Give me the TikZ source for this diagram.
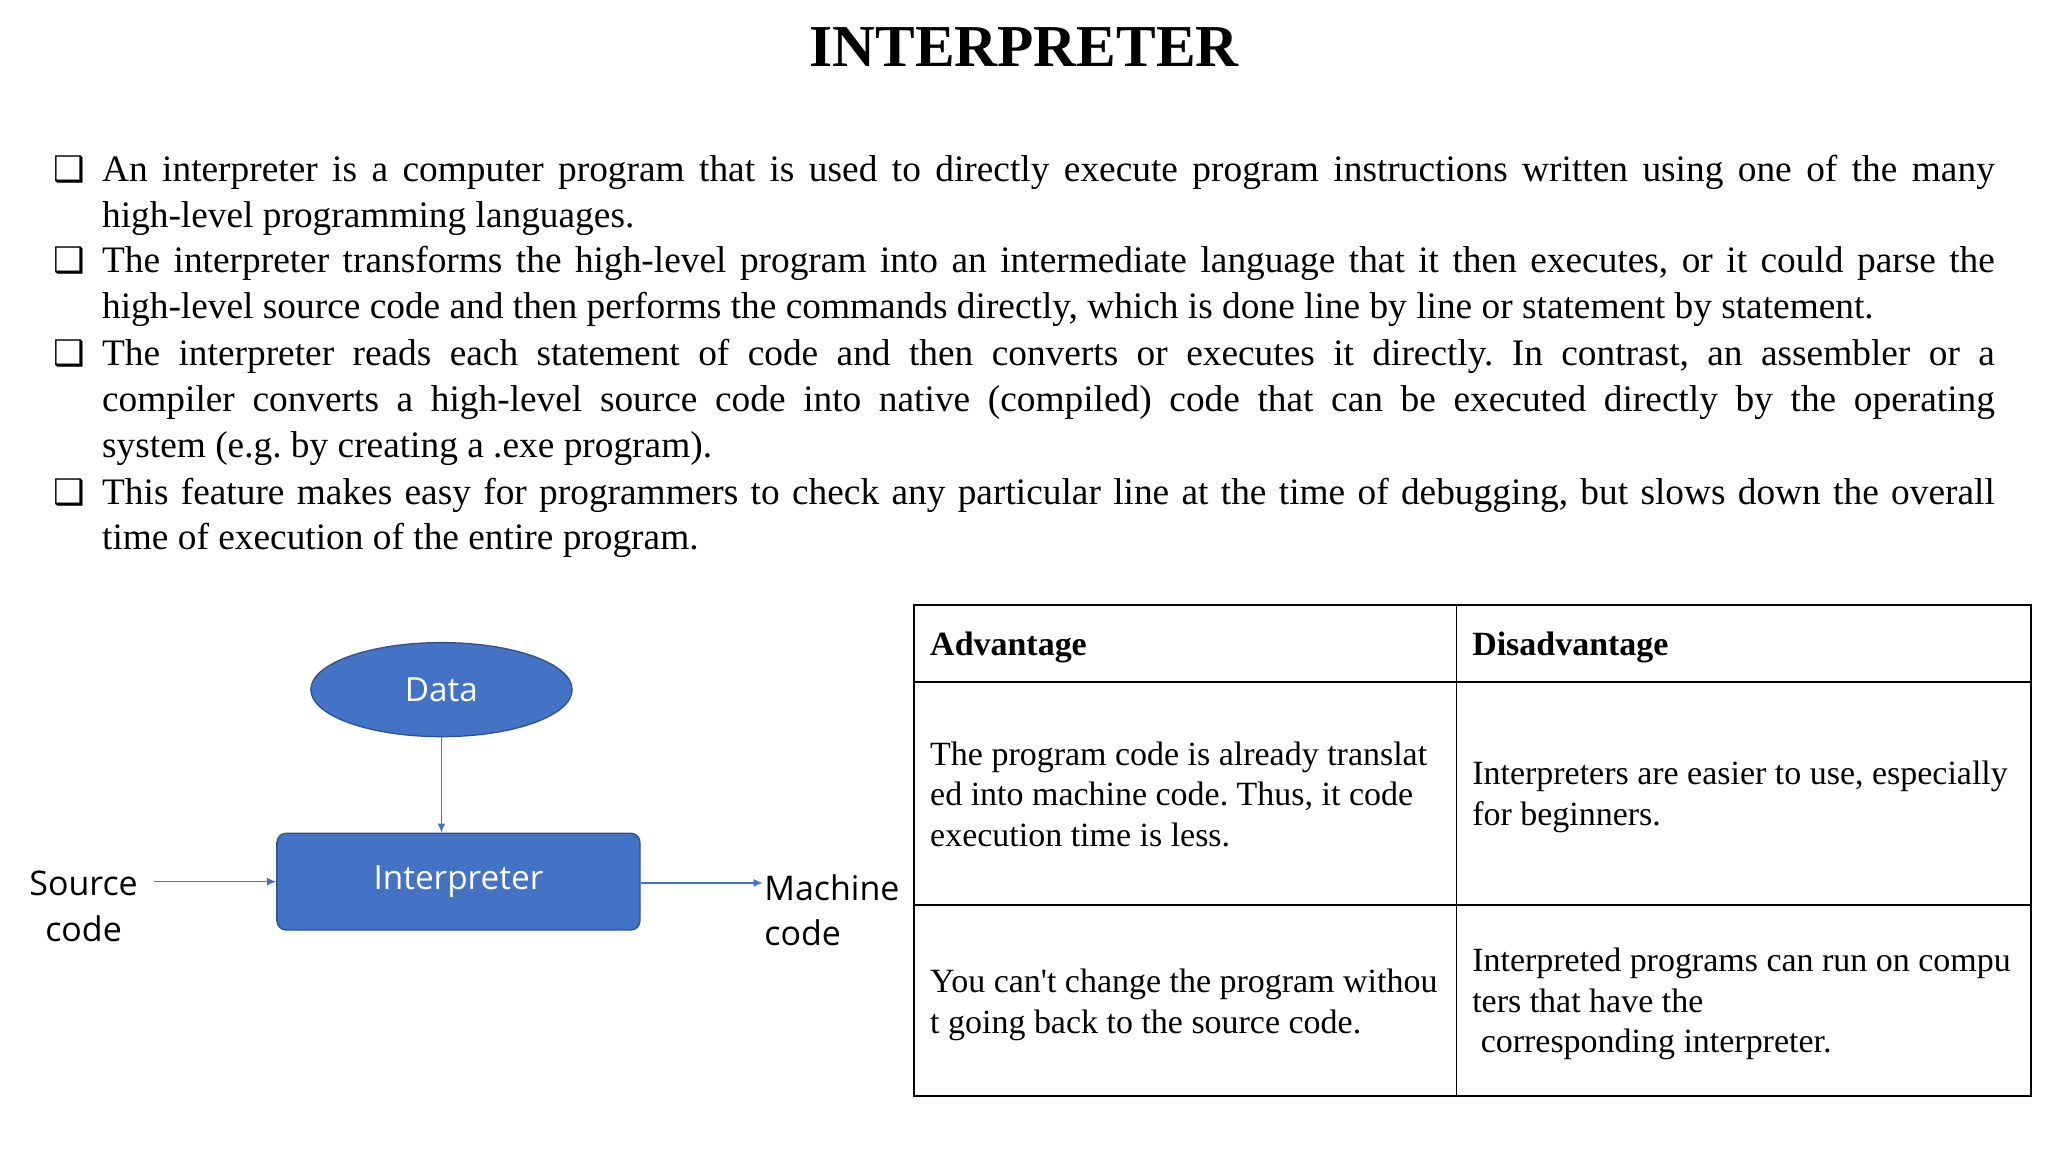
\documentclass[tikz,border=0pt]{standalone}
\usepackage{fontspec}
\setmainfont{Liberation Serif}
\newfontfamily\nomap{Liberation Serif}[Ligatures=TeXOff]
\newfontfamily\diagfont{Open Sans}
\newfontfamily\symfont{DejaVu Sans}
\usetikzlibrary{shapes.geometric,arrows.meta}
\definecolor{blu}{HTML}{4472C4}
\definecolor{bluedge}{HTML}{2F528F}
\frenchspacing
\newcommand{\cellrows}[1]{\begin{tabular}[t]{@{}l@{}}#1\end{tabular}}
\newcommand{\apos}{{\nomap'}}
\tikzset{
 para/.style={anchor=base west,text width=1449pt,align=justify,inner sep=0pt,font=\fontsize{28.6}{35}\selectfont},
 bul/.style={anchor=base,inner sep=0pt,font=\symfont\fontsize{27}{27}\selectfont},
 cell/.style={anchor=base west,inner sep=0pt,font=\fontsize{26}{31}\selectfont},
 dnode/.style={fill=blu,draw=bluedge,line width=1pt,text=white,font=\diagfont\fontsize{25.5}{30}\selectfont},
 dlabel/.style={inner sep=0pt,align=left,font=\diagfont\fontsize{26}{35}\selectfont},
 conn/.style={draw=blu,line width=1pt,-{Latex[length=7pt,width=6pt]}}
}
\begin{document}
\begin{tikzpicture}[x=1pt,y=-1pt]
\useasboundingbox[fill=white] (0,0) rectangle (1568,882);
\node[font=\bfseries\fontsize{45.5}{45}\selectfont,anchor=base] (title) at (784,51) {INTERPRETER};
\node[bul] (b1) at (53,139) {❑};
\node[bul] (b2) at (53,209) {❑};
\node[bul] (b3) at (53,280) {❑};
\node[bul] (b4) at (53,386) {❑};
\node[para] (p1) at (78,139) {An interpreter is a computer program that is used to directly execute program instructions written using one of the many\linebreak high-level programming languages.};
\node[para] (p2) at (78,209) {The interpreter transforms the high-level program into an intermediate language that it then executes, or it could parse the\linebreak high-level source code and then performs the commands directly, which is done line by line or statement by statement.};
\node[para] (p3) at (78,280) {The interpreter reads each statement of code and then converts or executes it directly. In contrast, an assembler or a\linebreak compiler converts a high-level source code into native (compiled) code that can be executed directly by the operating\linebreak system (e.g. by creating a .exe program).};
\node[para] (p4) at (78,386) {This feature makes easy for programmers to check any particular line at the time of debugging, but slows down the overall\linebreak time of execution of the entire program.};
% diagram
\node[dnode,ellipse,minimum width=200pt,minimum height=72pt] (data) at (338,528) {Data};
\node[dnode,rounded corners=7pt,minimum width=278pt,minimum height=74pt] (interp) at (351,675) {Interpreter};
\node[dlabel,align=center] (src) at (64,694) {Source\\code};
\node[dlabel,anchor=west] (mach) at (585,697) {Machine\\code};
\coordinate (srcend) at (118,675);
\coordinate (machend) at (584,676);
\draw[conn] (data) -- (interp.north -| data);
\draw[conn] (srcend) -- (interp.west |- srcend);
\draw[conn] (interp.east |- machend) -- (machend);
% table
\draw[line width=1.5pt] (700,463) rectangle (1555,839);
\draw[line width=1.2pt] (1115,463) -- (1115,839) (700,522) -- (1555,522) (700,693) -- (1555,693);
\node[cell,font=\bfseries\fontsize{26}{31}\selectfont] (h1) at (712,502) {Advantage};
\node[cell,font=\bfseries\fontsize{26}{31}\selectfont] (h2) at (1127,502) {Disadvantage};
\node[cell] (c11) at (712,586) {\cellrows{The program code is already translat\\ed into machine code. Thus, it code\\execution time is less.}};
\node[cell] (c12) at (1127,601) {\cellrows{Interpreters are easier to use, especially\\for beginners.}};
\node[cell] (c21) at (712,760) {\cellrows{You can\apos t change the program withou\\t going back to the source code.}};
\node[cell] (c22) at (1127,744) {\cellrows{Interpreted programs can run on compu\\ters that have the\\\ corresponding interpreter.}};
\end{tikzpicture}
\end{document}
